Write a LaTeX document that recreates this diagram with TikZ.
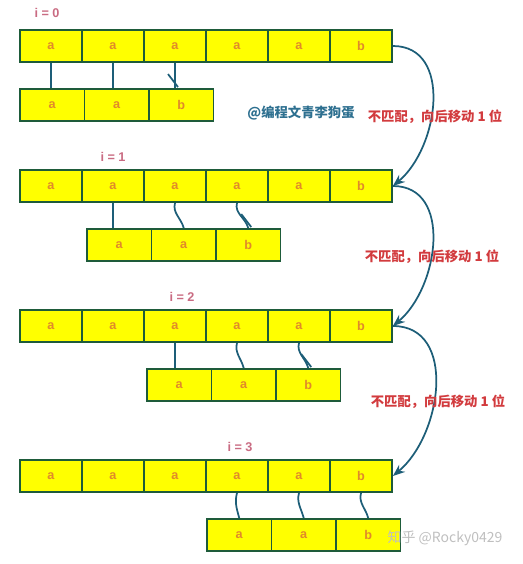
\documentclass[tikz,border=0pt]{standalone}
\usepackage{fontspec}
\setmainfont{Liberation Sans}
\newfontfamily\cjk{Noto Sans CJK SC}
\usetikzlibrary{arrows.meta,calc}
\definecolor{cellfill}{HTML}{FFFF00}
\definecolor{cellline}{HTML}{1E5B3A}
\definecolor{celltext}{HTML}{E08A2A}
\definecolor{idxcol}{HTML}{C96B82}
\definecolor{linkcol}{HTML}{1D5E78}
\definecolor{msgcol}{HTML}{D23B3E}
\definecolor{signcol}{HTML}{2E7090}
\tikzstyle{cell}=[rectangle, draw=cellline, line width=1.4pt, fill=cellfill, minimum height=24pt, inner sep=0pt, font=\fontsize{9.5}{11}\selectfont\bfseries, text=celltext]
\tikzstyle{txt}=[cell, minimum width=46.5pt]
\tikzstyle{pat}=[cell, minimum width=48.4pt]
\tikzstyle{ilabel}=[font=\fontsize{9.5}{11}\selectfont\bfseries, text=idxcol]
\tikzstyle{link}=[draw=linkcol, line width=1.3pt]
\tikzstyle{wavy}=[link, out=-105, in=105]
\tikzstyle{moveon}=[draw=linkcol, line width=1.3pt, -{Stealth[length=9pt,width=7pt]}, out=0, in=40, looseness=1.1]
\tikzstyle{msg}=[font=\cjk\fontsize{10}{12}\selectfont\bfseries, text=msgcol]

\begin{document}
\begin{tikzpicture}[x=0.75pt,y=-0.75pt]
				\useasboundingbox (0,0) rectangle (523,564);
				%Step i = 0
				\draw (47,13) node[ilabel] (i0) {i = 0};
				\draw (51,46) node[txt] (r0c0) {a};
				\draw (113,46) node[txt] (r0c1) {a};
				\draw (175,46) node[txt] (r0c2) {a};
				\draw (237,46) node[txt] (r0c3) {a};
				\draw (299,46) node[txt] (r0c4) {a};
				\draw (361,46) node[txt] (r0c5) {b};
				\draw (52.25,105) node[pat] (p0c0) {a};
				\draw (116.75,105) node[pat] (p0c1) {a};
				\draw (181.25,105) node[pat] (p0c2) {b};
				
				%Step i = 1
				\draw (113,157) node[ilabel] (i1) {i = 1};
				\draw (51,186) node[txt] (r1c0) {a};
				\draw (113,186) node[txt] (r1c1) {a};
				\draw (175,186) node[txt] (r1c2) {a};
				\draw (237,186) node[txt] (r1c3) {a};
				\draw (299,186) node[txt] (r1c4) {a};
				\draw (361,186) node[txt] (r1c5) {b};
				\draw (119.25,245) node[pat] (p1c0) {a};
				\draw (183.75,245) node[pat] (p1c1) {a};
				\draw (248.25,245) node[pat] (p1c2) {b};
				
				%Step i = 2
				\draw (182,297) node[ilabel] (i2) {i = 2};
				\draw (51,326) node[txt] (r2c0) {a};
				\draw (113,326) node[txt] (r2c1) {a};
				\draw (175,326) node[txt] (r2c2) {a};
				\draw (237,326) node[txt] (r2c3) {a};
				\draw (299,326) node[txt] (r2c4) {a};
				\draw (361,326) node[txt] (r2c5) {b};
				\draw (179.25,385) node[pat] (p2c0) {a};
				\draw (243.75,385) node[pat] (p2c1) {a};
				\draw (308.25,385) node[pat] (p2c2) {b};
				
				%Step i = 3
				\draw (240,447) node[ilabel] (i3) {i = 3};
				\draw (51,476) node[txt] (r3c0) {a};
				\draw (113,476) node[txt] (r3c1) {a};
				\draw (175,476) node[txt] (r3c2) {a};
				\draw (237,476) node[txt] (r3c3) {a};
				\draw (299,476) node[txt] (r3c4) {a};
				\draw (361,476) node[txt] (r3c5) {b};
				\draw (239.25,535) node[pat] (p3c0) {a};
				\draw (303.75,535) node[pat] (p3c1) {a};
				\draw (368.25,535) node[pat] (p3c2) {b};
				
				%The comparisons
				\draw[link] (r0c0.south) -- (r0c0.south |- p0c0.north);
				\draw[link] (r0c1.south) -- (r0c1.south |- p0c1.north);
				\draw[link] (r0c2.south) -- (r0c2.south |- p0c2.north) coordinate (x0);
				\draw[link] ($(x0)+(-7,-14)$) -- ($(x0)+(3,-1)$);
				
				\draw[link] (r1c1.south) -- (r1c1.south |- p1c0.north);
				\draw[wavy] (r1c2.south) to (p1c1.north);
				\draw[wavy] (r1c3.south) to (p1c2.north);
				\draw[link] ($(p1c2.north)+(-7,-14)$) -- ($(p1c2.north)+(3,-1)$);
				
				\draw[link] (r2c2.south) -- (r2c2.south |- p2c0.north);
				\draw[wavy] (r2c3.south) to (p2c1.north);
				\draw[wavy] (r2c4.south) to (p2c2.north);
				\draw[link] ($(p2c2.north)+(-7,-14)$) -- ($(p2c2.north)+(3,-1)$);
				
				\draw[wavy] (r3c3.south) to (p3c0.north);
				\draw[wavy] (r3c4.south) to (p3c1.north);
				\draw[wavy] (r3c5.south) to (p3c2.north);
				
				%The shifts
				\draw[moveon] (r0c5.east) to (r1c5.east);
				\draw[moveon] (r1c5.east) to (r2c5.east);
				\draw[moveon] (r2c5.east) to (r3c5.east);
				\draw (435,117) node[msg] (m0) {不匹配，向后移动 1 位};
				\draw (432,257) node[msg] (m1) {不匹配，向后移动 1 位};
				\draw (438,402) node[msg] (m2) {不匹配，向后移动 1 位};
				
				%The signatures
				\draw (301,113) node[font=\cjk\fontsize{10}{12}\selectfont\bfseries, text=signcol] (s0) {@编程文青李狗蛋};
				\draw (445,538) node[font=\cjk\fontsize{10.5}{12}\selectfont, text=black!25] (s1) {知乎 @Rocky0429};
			\end{tikzpicture}
\end{document}
